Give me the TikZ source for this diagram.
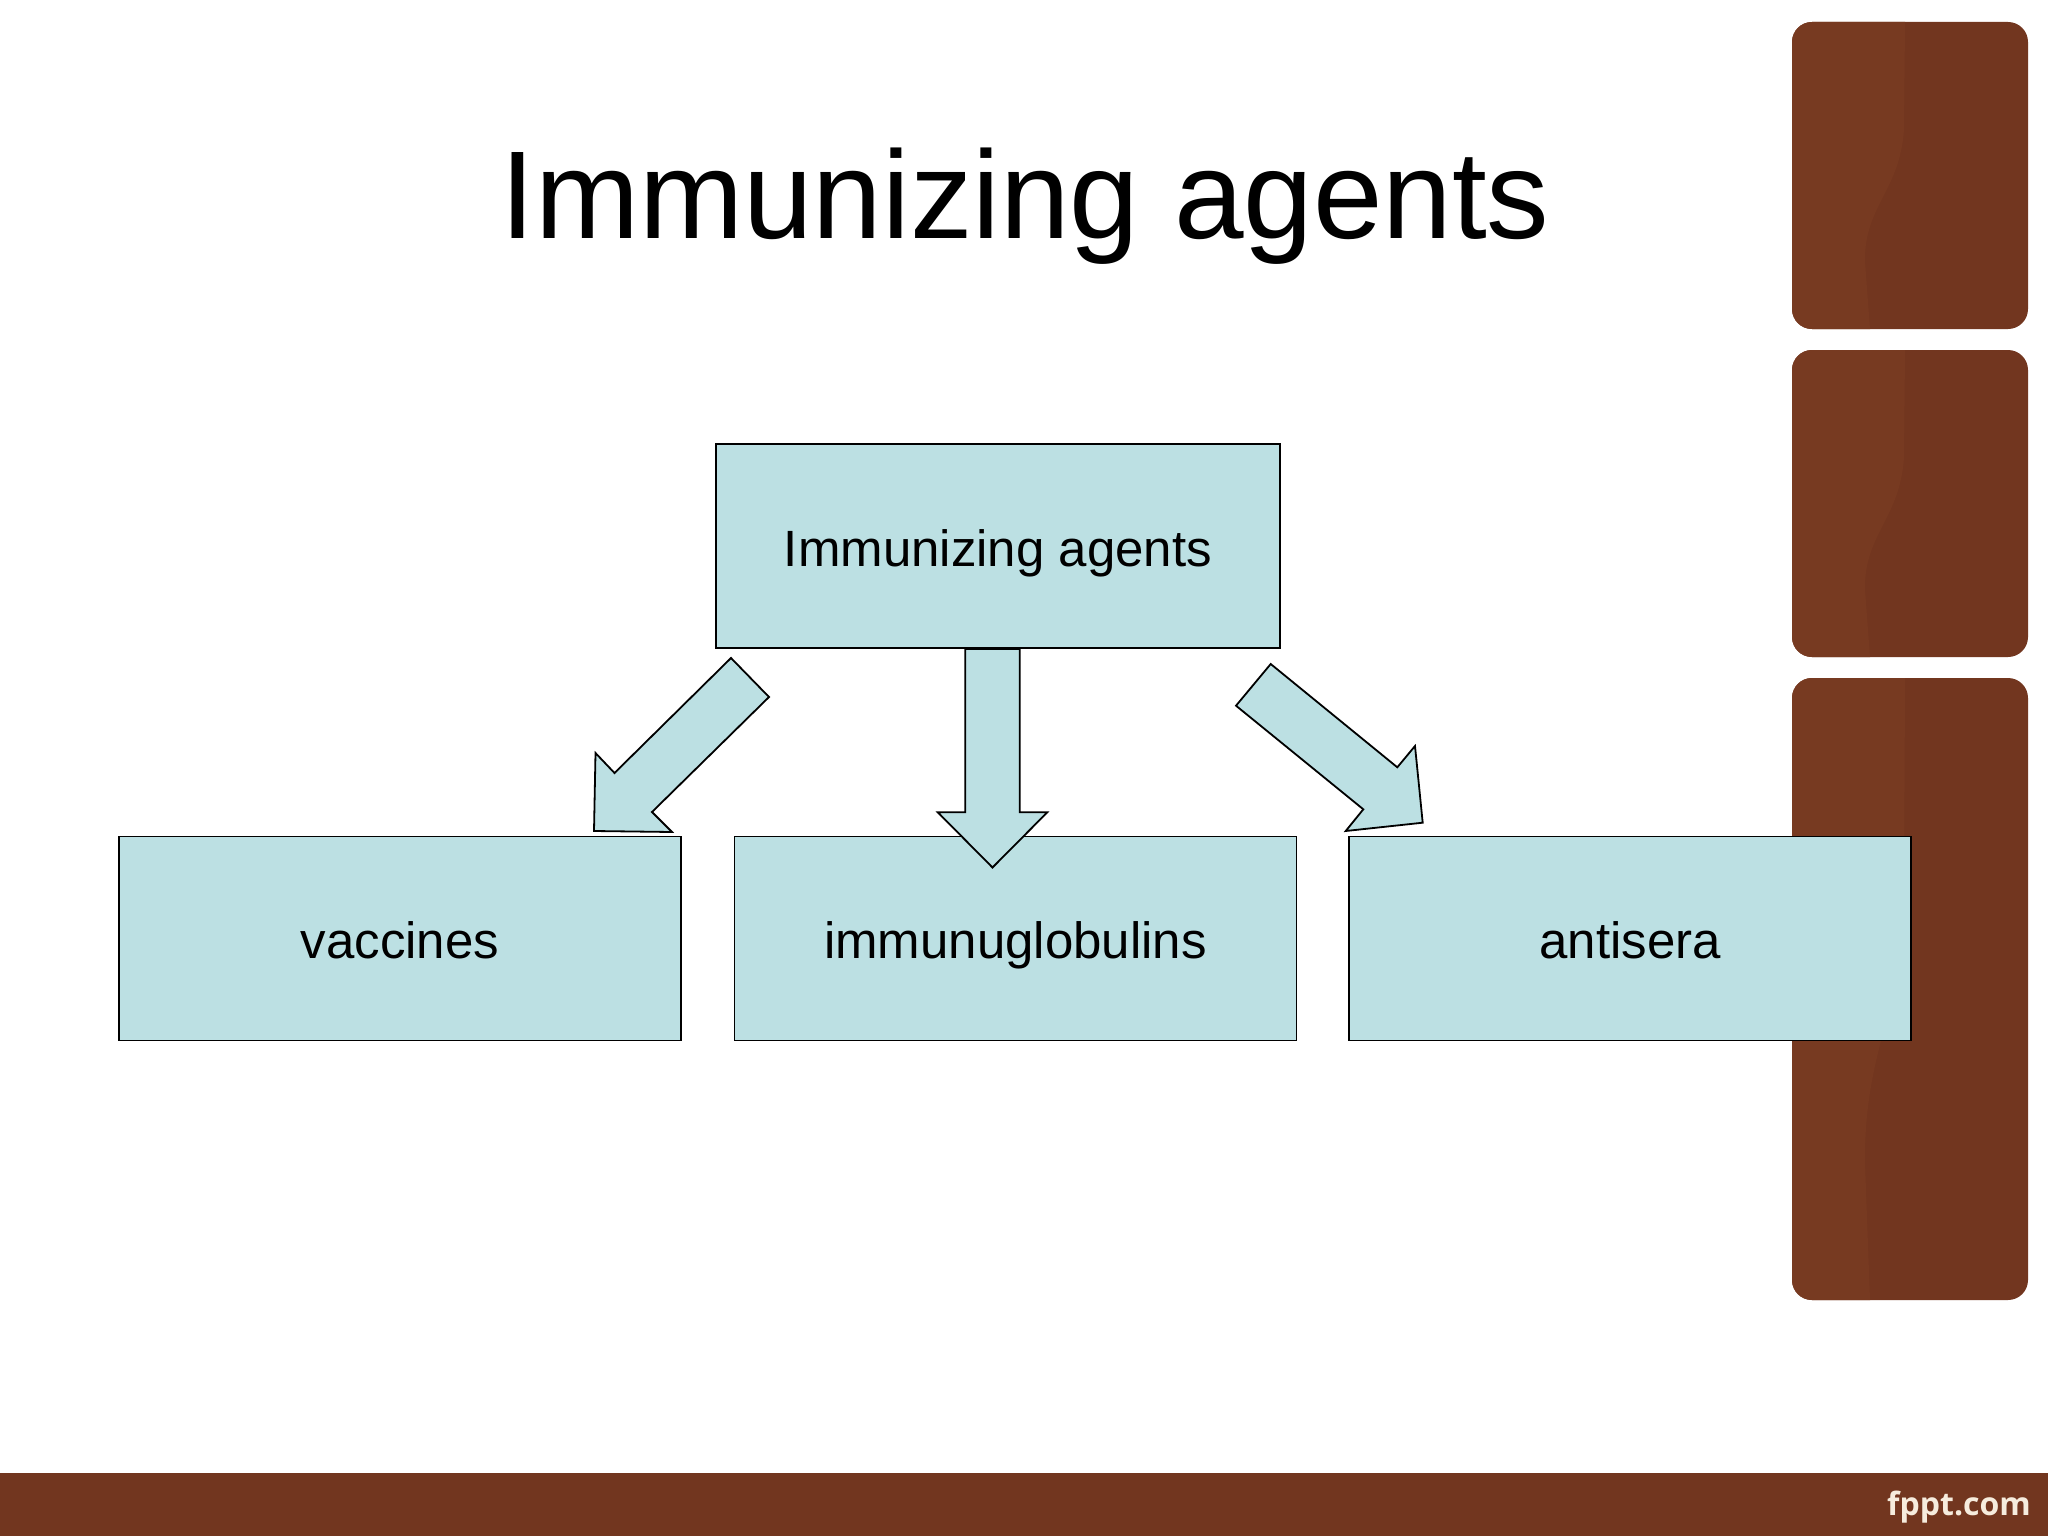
\documentclass[tikz,border=0pt]{standalone}
\usepackage{fontspec}
\setmainfont{Liberation Sans}
\newfontfamily\footfont{Open Sans}
\definecolor{boxfill}{HTML}{BCE0E3}
\definecolor{panelbrown}{HTML}{72361F}
\definecolor{panellight}{HTML}{773A21}
\definecolor{barbrown}{HTML}{72361F}
\definecolor{footcream}{HTML}{F6ECDD}
\tikzset{
  boxstyle/.style={draw=black, line width=1.8pt, fill=boxfill, minimum width=562pt,
    minimum height=204pt, inner sep=0pt, text height=40pt, text depth=0pt,
    font=\fontsize{51}{60}\selectfont},
  blockarrow/.style={draw=black, line width=1.8pt, fill=boxfill, line join=miter},
  panel/.style={fill=panelbrown, rounded corners=20pt}
}
\begin{document}
\begin{tikzpicture}[x=1pt,y=-1pt]
\useasboundingbox (0,0) rectangle (2048,1536);
\fill[white] (0,0) rectangle (2048,1536);
% side panels
\foreach \t/\b in {22/329, 350/657, 678/1300}{
  \fill[panel] (1792,\t) rectangle (2028,\b);
  \begin{scope}
    \clip[rounded corners=20pt] (1792,\t) rectangle (2028,\b);
    \fill[panellight] (1792,\t) -- (1905,\t) -- (1904,{\t+0.35*(\b-\t)})
      .. controls (1900,{\t+0.55*(\b-\t)}) and (1864,{\t+0.6*(\b-\t)}) .. (1865,{\t+0.78*(\b-\t)})
      -- (1870,\b) -- (1792,\b) -- cycle;
  \end{scope}
}
% footer bar
\fill[barbrown] (0,1473) rectangle (2048,1536);
\node (fppt) at (2031,1507) [anchor=east, text=footcream, inner sep=0pt,
  font=\footfont\bfseries\fontsize{32}{38}\selectfont] {fppt.com};
% title
\node (title) at (1025,238) [anchor=base, inner sep=0pt, font=\fontsize{125}{150}\selectfont] {Immunizing agents};
% boxes
\node[boxstyle, minimum width=564pt] (top) at (998,546) {Immunizing agents};
\node[boxstyle] (vac) at (400,938.5) {vaccines};
\node[boxstyle] (imm) at (1015.5,938.5) {immunuglobulins};
\node[boxstyle] (anti) at (1630,938.5) {antisera};
% block arrows
\draw[blockarrow] (731,658) -- (769,697) -- (652,812) -- (672,832) -- (594,831)
  -- (595.5,753) -- (614.5,773) -- cycle;
\draw[blockarrow] (965.3,649) -- (1019.7,649) -- (1019.7,812.3) -- (1047.3,812.3)
  -- (992.5,867.5) -- (937.8,812.3) -- (965.3,812.3) -- cycle;
\draw[blockarrow] (1236,705.7) -- (1270.7,664) -- (1397.3,767.3) -- (1415,746)
  -- (1422.7,822.7) -- (1345.7,831) -- (1363.3,809.3) -- cycle;
\end{tikzpicture}
\end{document}
